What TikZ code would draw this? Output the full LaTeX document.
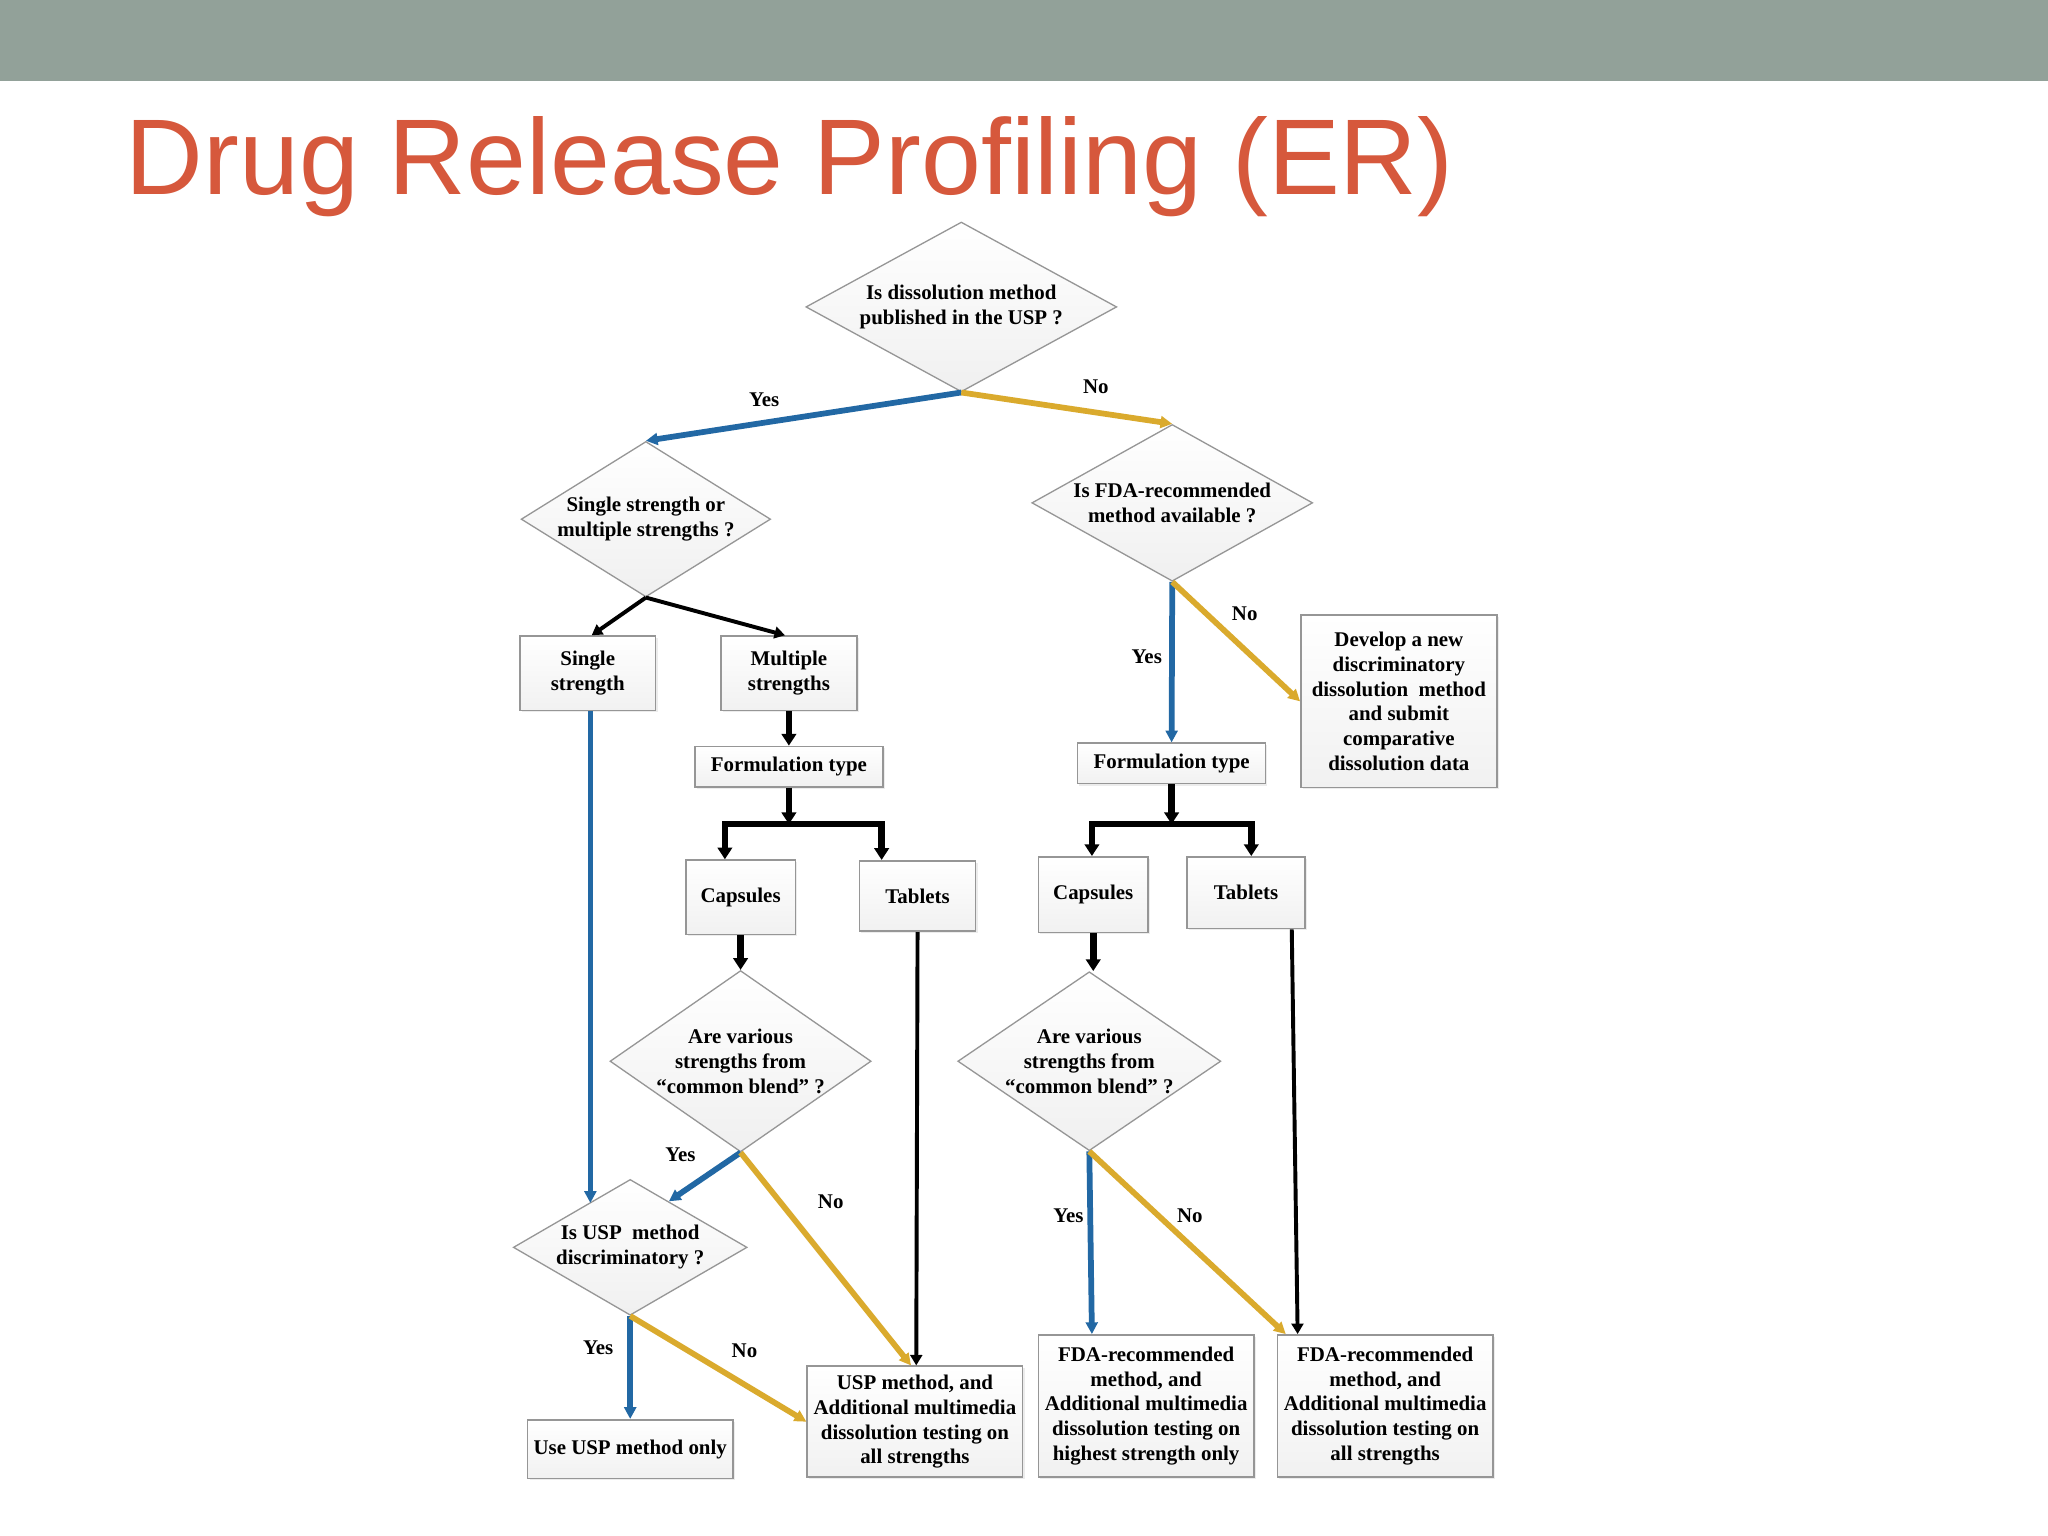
\documentclass[tikz,border=0pt]{standalone}
\usepackage{fontspec}
\setmainfont{Liberation Serif}
\newfontfamily\titlefont{Liberation Sans}
\usetikzlibrary{shapes.geometric,arrows.meta,shadows,calc}
\definecolor{hdr}{RGB}{146,161,153}
\definecolor{ttl}{RGB}{214,88,60}
\definecolor{yesblue}{RGB}{34,104,164}
\definecolor{nogold}{RGB}{218,170,45}
\definecolor{bord}{RGB}{150,150,150}
\begin{document}
\begin{tikzpicture}[x=0.5pt,y=-0.5pt,
  txt/.style={font=\bfseries\fontsize{8}{9.5}\selectfont, align=center, text=black},
  box/.style={txt, rectangle, draw=bord, line width=0.6pt, top color=white, bottom color=gray!11, inner sep=0pt,
    drop shadow={opacity=0.15, shadow xshift=0.7pt, shadow yshift=-0.7pt}},
  dia/.style={txt, diamond, draw=bord, line width=0.5pt, top color=white, bottom color=gray!12, inner sep=0pt},
  lab/.style={font=\bfseries\fontsize{8}{9.5}\selectfont, inner sep=0pt},
  yesarrow/.style={draw=yesblue, line width=2.2pt, -{Triangle[length=4.5pt,width=4.5pt]}},
  noarrow/.style={draw=nogold, line width=2.2pt, -{Triangle[length=4.5pt,width=4.5pt]}},
  thinarrow/.style={draw=black, line width=1.5pt, -{Triangle[length=4pt,width=4.5pt]}},
  thickarrow/.style={draw=black, line width=2.5pt, -{Triangle[length=4.5pt,width=5.5pt]}},
  thickline/.style={draw=black, line width=2.5pt},
]
\useasboundingbox (0,0) rectangle (1568,1176);
\fill[white] (0,0) rectangle (1568,1176);
\fill[hdr] (0,0) rectangle (1568,62);
\node[anchor=base west, inner sep=0pt, text=ttl, font=\titlefont\fontsize{41.2}{48}\selectfont] (title) at (96,149) {Drug Release Profiling (ER)};

% diamonds
\node[dia, shape aspect=1.83, minimum width=119pt, minimum height=65pt] (d1) at (736,235) {Is dissolution method\\published in the USP ?};
\node[dia, shape aspect=1.6, minimum width=95.5pt, minimum height=59.5pt] (d2) at (494.5,397.5) {Single strength or\\multiple strengths ?};
\node[dia, shape aspect=1.79, minimum width=107.5pt, minimum height=60pt] (d3) at (897.5,385) {Is FDA-recommended\\method available ?};
\node[dia, shape aspect=1.44, minimum width=97pt, minimum height=67.5pt] (d4) at (567,812.5) {Are various\\strengths from\\“common blend” ?};
\node[dia, shape aspect=1.47, minimum width=99pt, minimum height=67.5pt] (d5) at (834,812.5) {Are various\\strengths from\\“common blend” ?};
\node[dia, shape aspect=1.72, minimum width=89.5pt, minimum height=52pt] (d6) at (482.5,955) {Is USP\ \ method\\discriminatory ?};

% boxes
\node[box, minimum width=52pt, minimum height=28.5pt] (ss) at (450,515.5) {Single\\strength};
\node[box, minimum width=52pt, minimum height=28.5pt] (ms) at (604,515.5) {Multiple\\strengths};
\node[box, minimum width=72pt, minimum height=15.5pt] (ftl) at (604,587) {Formulation type};
\node[box, minimum width=42pt, minimum height=28.5pt] (capl) at (567,687) {Capsules};
\node[box, minimum width=44.5pt, minimum height=27pt] (tabl) at (702.5,686) {Tablets};
\node[box, minimum width=72pt, minimum height=15.5pt] (ftr) at (897,584.5) {Formulation type};
\node[box, minimum width=75pt, minimum height=66pt] (dev) at (1071,537) {Develop a new\\discriminatory\\dissolution\ \ method\\and submit\\comparative\\dissolution data};
\node[box, minimum width=42pt, minimum height=29pt] (capr) at (837,685) {Capsules};
\node[box, minimum width=45pt, minimum height=27.5pt] (tabr) at (954,683.5) {Tablets};
\node[box, minimum width=78.5pt, minimum height=22.5pt] (use) at (482.5,1109.5) {Use USP method only};
\node[box, minimum width=82.5pt, minimum height=42.5pt] (uspm) at (700.5,1088.5) {USP method, and\\Additional multimedia\\dissolution testing on\\all strengths};
\node[box, minimum width=82.5pt, minimum height=54.5pt] (fdah) at (877.5,1076.5) {FDA-recommended\\method, and\\Additional multimedia\\dissolution testing on\\highest strength only};
\node[box, minimum width=82.5pt, minimum height=54.5pt] (fdaa) at (1060.5,1076.5) {FDA-recommended\\method, and\\Additional multimedia\\dissolution testing on\\all strengths};

% junction coordinates
\coordinate (jl) at (604,631);
\coordinate (jlL) at (555,631);
\coordinate (jlR) at (675,631);
\coordinate (jr) at (897,631);
\coordinate (jrL) at (836,631);
\coordinate (jrR) at (958,631);

% connectors
\draw[yesarrow] (d1.south) -- (d2.north);
\draw[noarrow] (d1.south) -- (d3.north);
\draw[thinarrow] (d2.south) -- ([xshift=1.5pt]ss.north);
\draw[thinarrow] (d2.south) -- ([xshift=-1.5pt]ms.north);
\draw[yesarrow] ([xshift=1pt]ss.south) -- ([xshift=1pt]ss.south |- d6.133);
\draw[thickarrow] (ms.south) -- (ftl.north);
\draw[thickarrow] (ftl.south) -- (jl);
\draw[thickline, line cap=rect] (jlL) -- (jlR);
\draw[thickarrow] (jlL) -- (jlL |- capl.north);
\draw[thickarrow] (jlR) -- (jlR |- tabl.north);
\draw[thickarrow] (capl.south) -- (d4.north);
\draw[thinarrow] (tabl.south) -- ([xshift=0.5pt]uspm.north);
\draw[yesarrow] (d4.south) -- (d6.50);
\draw[noarrow] (d4.south) -- ([xshift=-1.5pt]uspm.north);
\draw[yesarrow] (d6.south) -- (use.north);
\draw[noarrow] (d6.south) -- (uspm.west);
\draw[yesarrow] (d3.south) -- (ftr.north);
\draw[noarrow] (d3.south) -- (dev.west);
\draw[thickarrow] (ftr.south) -- (jr);
\draw[thickline, line cap=rect] (jrL) -- (jrR);
\draw[thickarrow] (jrL) -- (jrL |- capr.north);
\draw[thickarrow] (jrR) -- (jrR |- tabr.north);
\draw[thickarrow] (capr.south) -- (capr.south |- d5.north);
\draw[thinarrow] ([xshift=17.5pt]tabr.south) -- ([xshift=-33.5pt]fdaa.north);
\draw[yesarrow] (d5.south) -- ([xshift=1pt]d5.south |- fdah.north);
\draw[noarrow] (d5.south) -- ([xshift=3.5pt]fdaa.north west);

% labels
\node[lab] (l1) at (585,306) {Yes};
\node[lab] (l2) at (839,296) {No};
\node[lab] (l3) at (521,884) {Yes};
\node[lab] (l4) at (636,920) {No};
\node[lab] (l5) at (458,1032) {Yes};
\node[lab] (l6) at (570,1034) {No};
\node[lab] (l7) at (878,503) {Yes};
\node[lab] (l8) at (953,470) {No};
\node[lab] (l9) at (818,931) {Yes};
\node[lab] (l10) at (911,931) {No};
\end{tikzpicture}
\end{document}
